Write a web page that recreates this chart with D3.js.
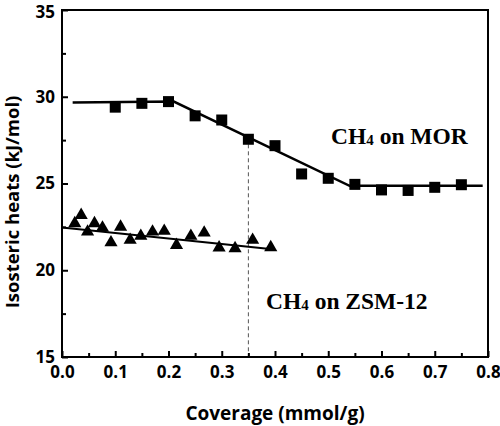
<!DOCTYPE html>
<html>
<head>
<meta charset="utf-8">
<script src="https://cdn.jsdelivr.net/npm/d3@7"></script>
<style>
  body { margin: 0; background: #fff; }
  svg { display: block; }
</style>
</head>
<body>
<div id="chart"></div>
<script>
// CH4 on MOR (squares)
const morX = [0.10, 0.15, 0.20, 0.25, 0.30, 0.35, 0.40, 0.45, 0.50, 0.55, 0.60, 0.65, 0.70, 0.75];
const morY = [29.4, 29.62, 29.72, 28.9, 28.66, 27.55, 27.18, 25.55, 25.3, 24.95, 24.63, 24.6, 24.78, 24.93];
const morFitX = [0.02, 0.21, 0.54, 0.79];
const morFitY = [29.67, 29.72, 24.87, 24.87];

// CH4 on ZSM-12 (triangles)
const zsmX = [0.024, 0.036, 0.048, 0.061, 0.076, 0.092, 0.11, 0.128, 0.148, 0.17, 0.192, 0.215, 0.242, 0.267, 0.295, 0.325, 0.358, 0.392];
const zsmY = [22.7, 23.18, 22.22, 22.7, 22.45, 21.6, 22.5, 21.74, 21.97, 22.22, 22.26, 21.45, 21.97, 22.16, 21.3, 21.26, 21.74, 21.32];
const zsmFitX = [0.0, 0.4];
const zsmFitY = [22.47, 21.2];

const xTicks = [0.0, 0.1, 0.2, 0.3, 0.4, 0.5, 0.6, 0.7, 0.8];
const xMinor = [0.05, 0.15, 0.25, 0.35, 0.45, 0.55, 0.65, 0.75];
const yTicks = [15, 20, 25, 30, 35];
const yMinor = [17.5, 22.5, 27.5, 32.5];
const markerX = 0.35;

const width = 500, height = 426;
const margin = { top: 10, right: 12, bottom: 69, left: 62 };

const x = d3.scaleLinear().domain([0, 0.8]).range([margin.left, width - margin.right]);
const y = d3.scaleLinear().domain([15, 35]).range([height - margin.bottom, margin.top]);

const svg = d3.select("#chart").append("svg")
  .attr("width", width)
  .attr("height", height);

const sans = "'Open Sans', sans-serif";
const serif = "'Liberation Serif', 'Times New Roman', serif";

// dashed marker line
const zip = (xs, ys) => xs.map((v, i) => [v, ys[i]]);
const morFit = zip(morFitX, morFitY);
const interp = d3.scaleLinear().domain(morFitX).range(morFitY);
svg.append("line")
  .attr("x1", x(markerX)).attr("x2", x(markerX))
  .attr("y1", y(interp(markerX))).attr("y2", y(15))
  .attr("stroke", "#555")
  .attr("stroke-width", 1)
  .attr("stroke-dasharray", "4,3");

const line = d3.line().x(d => x(d[0])).y(d => y(d[1]));

svg.append("path")
  .datum(morFit)
  .attr("d", line)
  .attr("fill", "none")
  .attr("stroke", "#000")
  .attr("stroke-width", 2.5);

svg.append("path")
  .datum(zip(zsmFitX, zsmFitY))
  .attr("d", line)
  .attr("fill", "none")
  .attr("stroke", "#000")
  .attr("stroke-width", 2);

// markers
const sq = 11;
svg.append("g").selectAll("rect")
  .data(zip(morX, morY))
  .join("rect")
  .attr("x", d => x(d[0]) - sq / 2)
  .attr("y", d => y(d[1]) - sq / 2)
  .attr("width", sq)
  .attr("height", sq)
  .attr("fill", "#000");

svg.append("g").selectAll("path")
  .data(zip(zsmX, zsmY))
  .join("path")
  .attr("transform", d => `translate(${x(d[0])},${y(d[1])})`)
  .attr("d", d3.symbol(d3.symbolTriangle, 75))
  .attr("fill", "#000");

// axes (inward ticks)
const plotBottom = y(15), plotLeft = x(0);

const xAxis = svg.append("g").attr("transform", `translate(0,${plotBottom})`);
xAxis.call(d3.axisBottom(x).tickValues(xTicks).tickSize(-6).tickFormat(d3.format(".1f")))
  .call(g => g.select(".domain").remove())
  .call(g => g.selectAll("line").attr("stroke-width", 2))
  .call(g => g.selectAll("text")
    .attr("dy", "1.05em")
    .attr("font-family", sans).attr("font-size", 17).attr("font-weight", "bold").attr("fill", "#000"));
xAxis.append("g").call(d3.axisBottom(x).tickValues(xMinor).tickSize(-4).tickFormat(""))
  .call(g => g.select(".domain").remove())
  .call(g => g.selectAll("line").attr("stroke-width", 2));

const yAxis = svg.append("g").attr("transform", `translate(${plotLeft},0)`);
yAxis.call(d3.axisLeft(y).tickValues(yTicks).tickSize(-6).tickPadding(7))
  .call(g => g.select(".domain").remove())
  .call(g => g.selectAll("line").attr("stroke-width", 2))
  .call(g => g.selectAll("text")
    .attr("font-family", sans).attr("font-size", 17).attr("font-weight", "bold").attr("fill", "#000"));
// keep the top label inside the page
yAxis.selectAll(".tick").filter(d => d === 35).select("text").attr("dy", "0.42em");
yAxis.append("g").call(d3.axisLeft(y).tickValues(yMinor).tickSize(-4).tickFormat(""))
  .call(g => g.select(".domain").remove())
  .call(g => g.selectAll("line").attr("stroke-width", 2));

// frame
svg.append("rect")
  .attr("x", x(0)).attr("y", y(35))
  .attr("width", x(0.8) - x(0))
  .attr("height", y(15) - y(35))
  .attr("fill", "none")
  .attr("stroke", "#000")
  .attr("stroke-width", 2);

// axis titles
svg.append("text")
  .attr("x", (x(0) + x(0.8)) / 2)
  .attr("y", 420)
  .attr("text-anchor", "middle")
  .attr("font-family", sans).attr("font-size", 19).attr("font-weight", "bold")
  .text("Coverage (mmol/g)");

svg.append("text")
  .attr("transform", "translate(19,202) rotate(-90)")
  .attr("text-anchor", "middle")
  .attr("font-family", sans).attr("font-size", 18.5).attr("font-weight", "bold")
  .text("Isosteric heats (kJ/mol)");

// series labels
function chemLabel(px, py, rest) {
  const t = svg.append("text")
    .attr("x", px).attr("y", py)
    .attr("font-family", serif).attr("font-size", 23.5).attr("font-weight", "bold");
  t.append("tspan").text("CH");
  t.append("tspan").attr("font-size", 15).attr("dy", 1).text("4");
  t.append("tspan").attr("dy", -1).text(rest);
}
chemLabel(331, 144, " on MOR");
chemLabel(266, 309, " on ZSM-12");
</script>
</body>
</html>
